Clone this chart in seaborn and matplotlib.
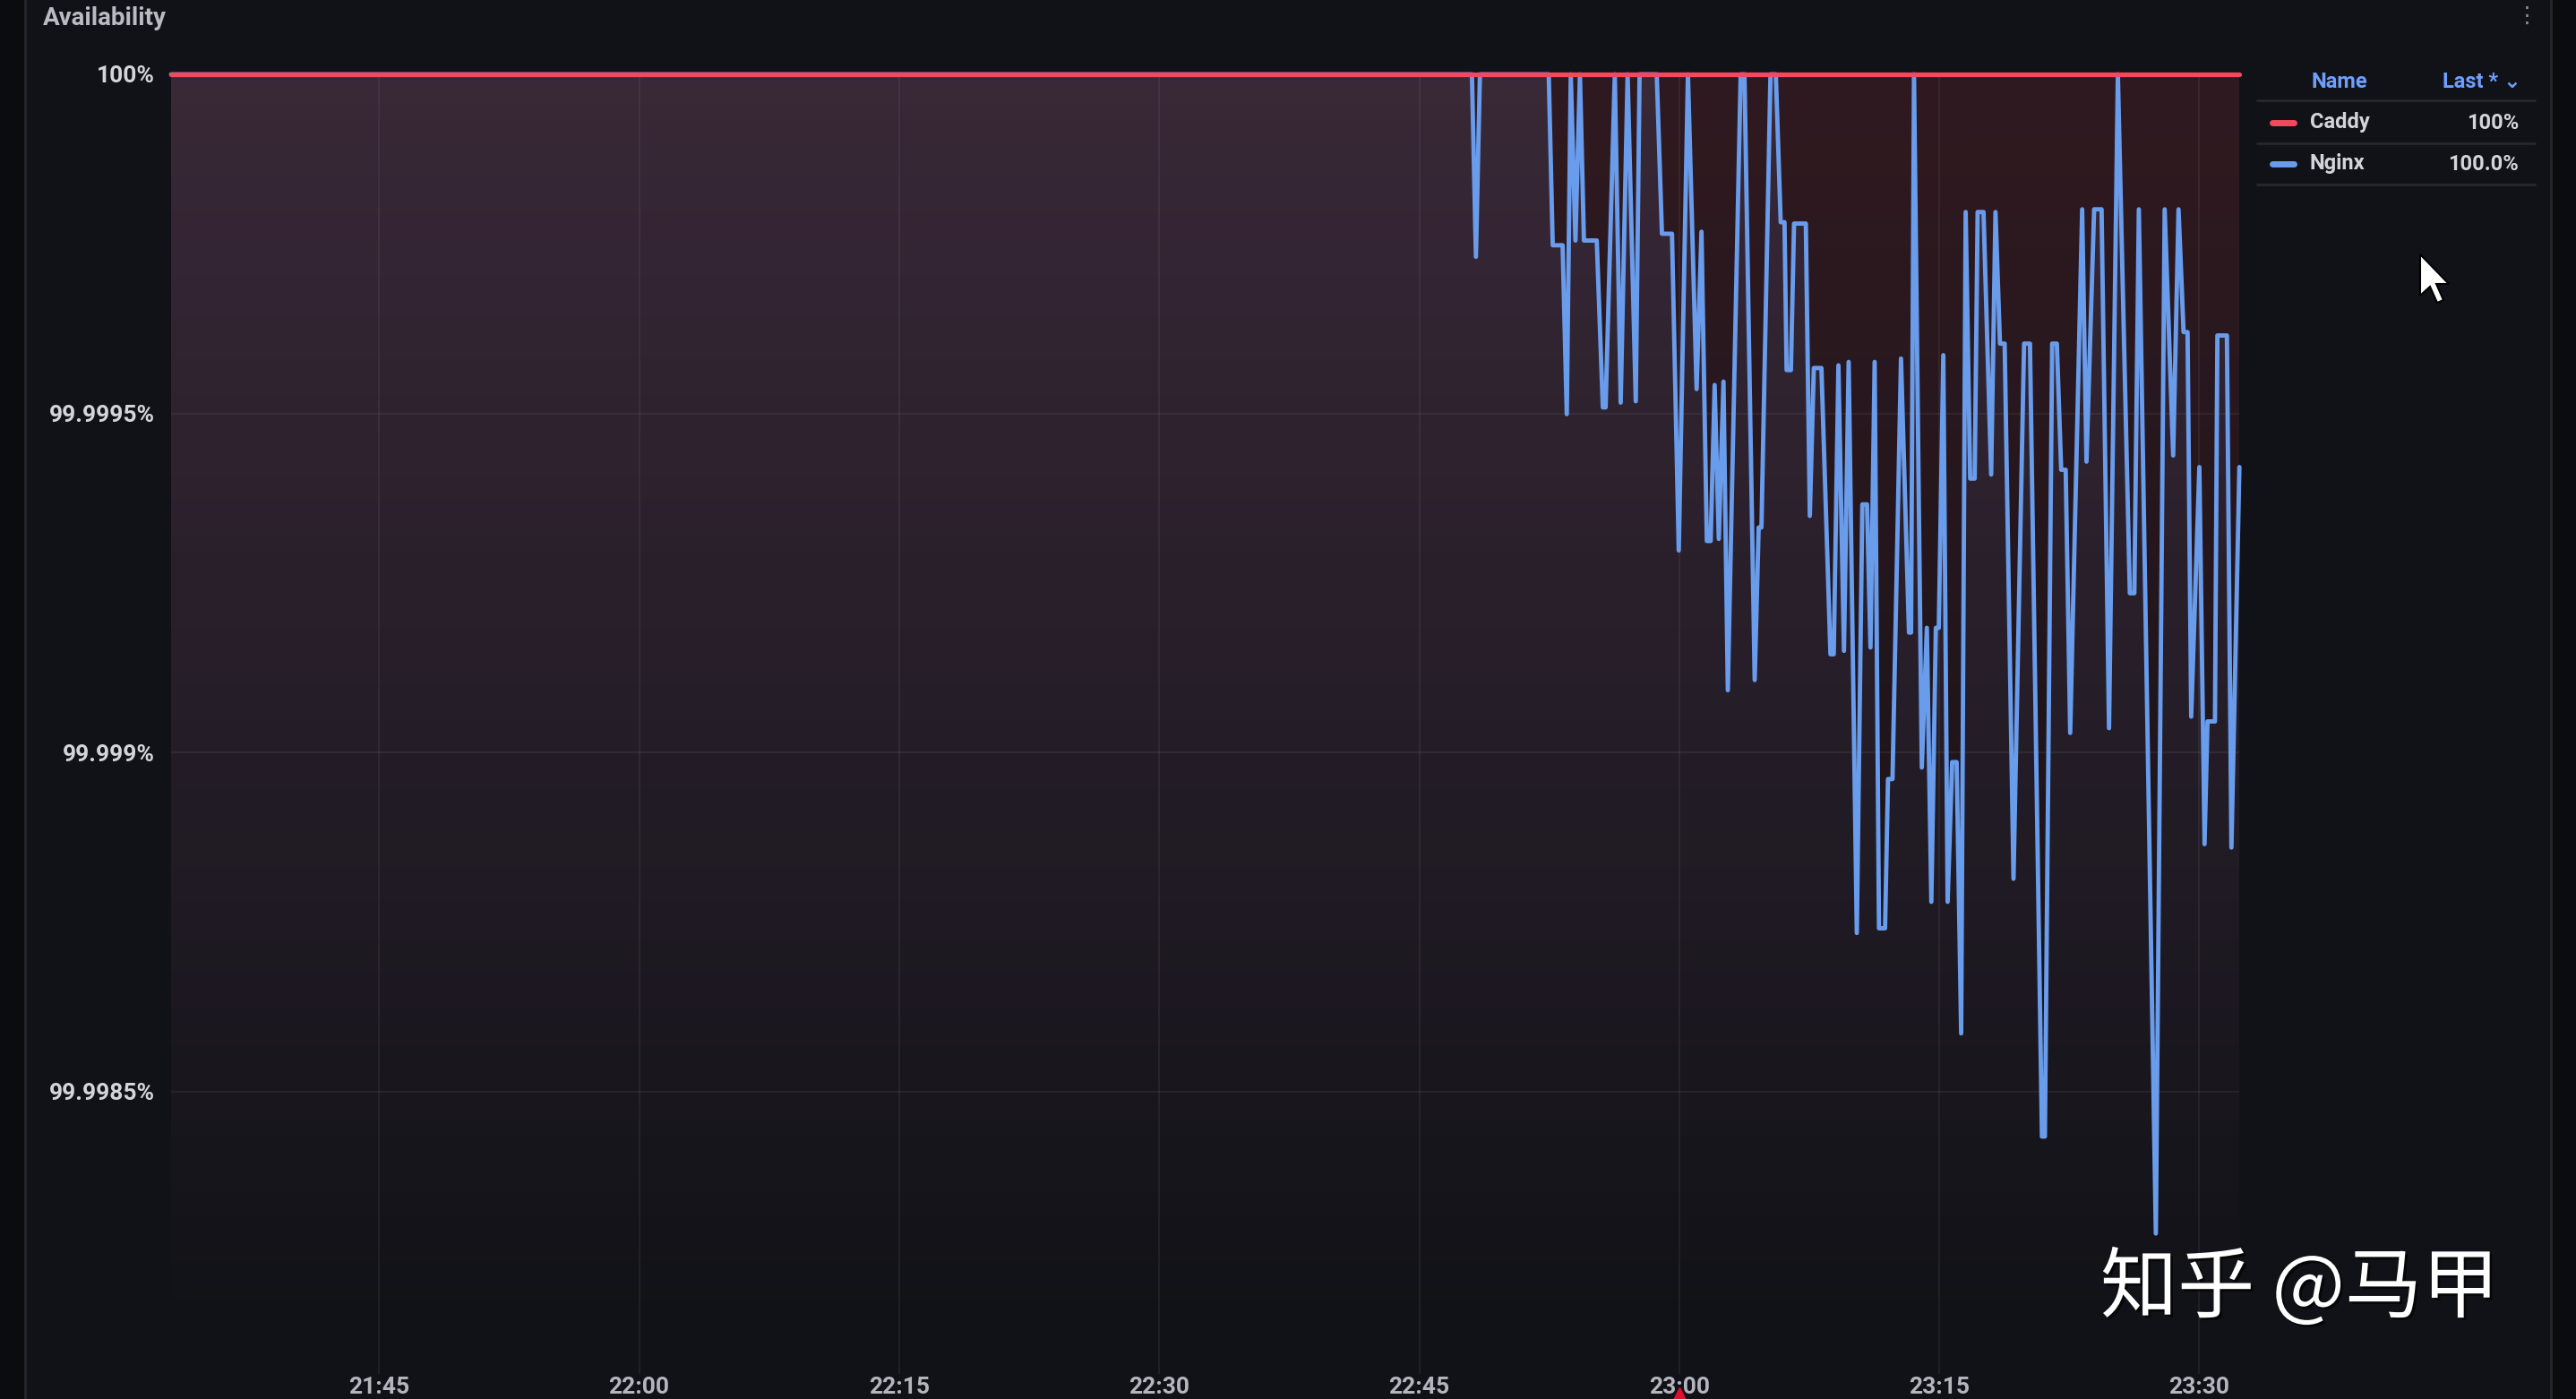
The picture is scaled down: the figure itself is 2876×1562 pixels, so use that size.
import numpy as np
import pandas as pd
import seaborn as sns
import matplotlib.pyplot as plt
import matplotlib.dates as mdates
import matplotlib.colors as mcolors
import matplotlib.patheffects as pe
from matplotlib.ticker import FixedLocator, FuncFormatter
from matplotlib.lines import Line2D
from matplotlib.patches import Polygon, Rectangle
from matplotlib.transforms import blended_transform_factory

# Availability (%), time as minutes after 21:00
caddy_min = [33.0, 152.3]
caddy_pct = [100.0, 100.0]

nginx_min = [
    33.0, 108.04, 108.27, 108.50, 112.47, 112.70, 113.27, 113.51, 113.74, 114.01,
    114.27, 114.50, 115.24, 115.59, 115.75, 116.28, 116.62, 117.02, 117.49, 117.71,
    118.70, 119.00, 119.58, 119.97, 120.50, 121.00, 121.28, 121.59, 121.81, 122.04,
    122.28, 122.55, 122.80, 123.54, 123.76, 124.35, 124.58, 124.74, 125.26, 125.57,
    125.85, 126.07, 126.19, 126.44, 126.62, 127.30, 127.53, 127.76, 128.20, 128.72,
    128.91, 129.18, 129.50, 129.77, 130.24, 130.56, 130.83, 131.03, 131.27, 131.52,
    131.87, 132.04, 132.30, 132.79, 133.25, 133.37, 133.54, 133.99, 134.28, 134.54,
    134.80, 134.97, 135.23, 135.48, 135.74, 136.00, 136.26, 136.52, 136.78, 137.04,
    137.21, 137.55, 137.99, 138.24, 138.50, 138.77, 139.28, 139.89, 140.23, 140.92,
    141.09, 141.51, 141.78, 142.03, 142.29, 142.55, 143.24, 143.49, 143.93, 144.36,
    144.79, 145.30, 145.99, 146.25, 146.51, 147.49, 148.00, 148.49, 148.80, 149.09,
    149.32, 149.53, 150.00, 150.30, 150.47, 150.90, 151.04, 151.59, 151.85, 152.31,
]
nginx_pct = [
    100.0, 100.0, 99.999731, 100.0, 100.0, 99.999748, 99.999748, 99.999499, 100.0, 99.999755,
    100.0, 99.999755, 99.999755, 99.999509, 99.999509, 100.0, 99.999516, 100.0, 99.999518, 100.0,
    100.0, 99.999765, 99.999765, 99.999298, 100.0, 99.999536, 99.999768, 99.999312, 99.999312, 99.999542,
    99.999315, 99.999547, 99.999092, 100.0, 100.0, 99.999107, 99.999332, 99.999332, 100.0, 100.0,
    99.999782, 99.999782, 99.999564, 99.999564, 99.999780, 99.999780, 99.999349, 99.999567, 99.999567, 99.999145,
    99.999145, 99.999571, 99.999150, 99.999576, 99.998734, 99.999366, 99.999366, 99.999155, 99.999576, 99.998741,
    99.998741, 99.998961, 99.998961, 99.999581, 99.999177, 99.999177, 100.0, 99.998978, 99.999184, 99.998780,
    99.999184, 99.999184, 99.999586, 99.998780, 99.998986, 99.998986, 99.998586, 99.999797, 99.999404, 99.999404,
    99.999797, 99.999797, 99.999410, 99.999797, 99.999603, 99.999603, 99.998814, 99.999603, 99.999603, 99.998434,
    99.998434, 99.999603, 99.999603, 99.999417, 99.999417, 99.999029, 99.999801, 99.999429, 99.999801, 99.999801,
    99.999036, 100.0, 99.999235, 99.999235, 99.999801, 99.998291, 99.999801, 99.999438, 99.999801, 99.999620,
    99.999620, 99.999053, 99.999421, 99.998865, 99.999046, 99.999046, 99.999615, 99.999615, 99.998860, 99.999421,
]

annotation_min = [120.0]
y_ticks = [100.0, 99.9995, 99.999, 99.9985]
x_limits_min = [33.0, 152.3]
y_limits = [99.998084, 100.0]

RED = "#F2495C"
BLUE = "#6A9CEC"
BG = "#111217"
TEXT = "#d4d5db"

base = pd.Timestamp("2024-01-01 21:00")
caddy = pd.DataFrame({"time": base + pd.to_timedelta(caddy_min, unit="m"),
                      "pct": caddy_pct, "name": "Caddy"})
nginx = pd.DataFrame({"time": base + pd.to_timedelta(nginx_min, unit="m"),
                      "pct": nginx_pct, "name": "Nginx"})
df = pd.concat([nginx, caddy], ignore_index=True)

sns.set_theme(style="dark")
plt.rcParams["font.family"] = ["Roboto", "DejaVu Sans"]

W, H = 2876, 1562
fig = plt.figure(figsize=(W / 100, H / 100), dpi=100, facecolor=BG)


def fx(px):
    return px / W


def fy(py):
    return 1 - py / H


# panel edges
fig.add_artist(Rectangle((0, 0), fx(28), 1, transform=fig.transFigure, color="#0b0c0f", zorder=0))
fig.add_artist(Rectangle((fx(2848), 0), 1 - fx(2848), 1, transform=fig.transFigure, color="#0b0c0f", zorder=0))
for px in (28, 2848):
    fig.add_artist(Line2D([fx(px), fx(px)], [0, 1], transform=fig.transFigure, color="#24262c", lw=2))

ax = fig.add_axes([fx(191), fy(1534), fx(2500) - fx(191), fy(83) - fy(1534)])
ax.set_facecolor(BG)


def gradient_fill(ax, times, vals, color, a_top):
    poly = ax.fill_between(times, vals, y_limits[0], facecolor="none", edgecolor="none")
    grad = np.zeros((256, 1, 4))
    grad[..., :3] = mcolors.to_rgb(color)
    grad[..., 3] = np.linspace(a_top, 0.0, 256)[:, None]
    xn = mdates.date2num(times)
    im = ax.imshow(grad, aspect="auto", origin="upper", zorder=1,
                   extent=[xn.min(), xn.max(), y_limits[0], y_limits[1]])
    im.set_clip_path(poly.get_paths()[0], transform=ax.transData)


gradient_fill(ax, nginx["time"], nginx["pct"], BLUE, 0.13)
gradient_fill(ax, caddy["time"], caddy["pct"], RED, 0.14)

sns.lineplot(data=df, x="time", y="pct", hue="name", hue_order=["Nginx", "Caddy"],
             palette={"Caddy": RED, "Nginx": BLUE}, estimator=None, sort=False,
             linewidth=3.5, legend=False, ax=ax, clip_on=False, zorder=3,
             solid_joinstyle="round")
for ln in ax.lines:
    if mcolors.to_hex(ln.get_color()).lower() == RED.lower():
        ln.set_linewidth(3.8)
        ln.set_zorder(4)

ax.set_xlim(base + pd.Timedelta(minutes=x_limits_min[0]), base + pd.Timedelta(minutes=x_limits_min[1]))
ax.set_ylim(y_limits)
ax.xaxis.set_major_locator(mdates.MinuteLocator(byminute=[0, 15, 30, 45]))
ax.xaxis.set_major_formatter(mdates.DateFormatter("%H:%M"))
ax.yaxis.set_major_locator(FixedLocator(y_ticks))
ax.yaxis.set_major_formatter(FuncFormatter(lambda v, p: f"{v:g}%"))
ax.tick_params(axis="both", length=0, labelsize=19, labelcolor=TEXT)
ax.tick_params(axis="y", pad=13)
ax.tick_params(axis="x", pad=2, labelcolor="#b4b5bd")
for lab in ax.get_xticklabels() + ax.get_yticklabels():
    lab.set_fontweight("bold")
ax.grid(True, color="white", alpha=0.07, linewidth=1.3)
ax.set_xlabel("")
ax.set_ylabel("")
for s in ax.spines.values():
    s.set_visible(False)

# annotation marker on the time axis
tr = blended_transform_factory(ax.transData, ax.transAxes)
ax.plot(base + pd.to_timedelta(annotation_min, unit="m"), [-0.016], marker="^", color="#e0102f",
        markersize=11, transform=tr, clip_on=False, linestyle="none")

# title
fig.text(fx(48), fy(28), "Availability", fontsize=20, fontweight="bold", color="#b9bac2", va="baseline")
fig.text(fx(2821), fy(18), "⋮", fontsize=18, color="#8e8f96", ha="center", va="center",
         family=["DejaVu Sans"])

# legend table
fig.text(fx(2612), fy(91), "Name", fontsize=17, fontweight="bold", color="#6e9fff", ha="center", va="center")
fig.text(fx(2815), fy(91), "Last * ⌄", fontsize=17, fontweight="bold", color="#6e9fff", ha="right", va="center")
for py in (112, 160, 206):
    fig.add_artist(Line2D([fx(2520), fx(2830)], [fy(py), fy(py)], transform=fig.transFigure,
                          color="#26282e", lw=2))
rows = [("Caddy", RED, f"{caddy_pct[-1]:.0f}%", 137), ("Nginx", BLUE, f"{nginx_pct[-1]:.1f}%", 183)]
for name, col, last, py in rows:
    fig.add_artist(Line2D([fx(2537), fx(2561)], [fy(py), fy(py)], transform=fig.transFigure,
                          color=col, lw=5, solid_capstyle="round"))
    fig.text(fx(2579), fy(py), name, fontsize=17, fontweight="bold", color=TEXT, va="center")
    fig.text(fx(2812), fy(py), last, fontsize=17, fontweight="bold", color=TEXT, va="center", ha="right")

# mouse pointer
tip = np.array([2702, 284])
shape = np.array([[0, 0], [0, 46], [11, 36], [19, 54], [26, 51], [18, 33], [32, 33]]) + tip
fig.add_artist(Polygon([[fx(x), fy(y)] for x, y in shape], closed=True, transform=fig.transFigure,
                       facecolor="white", edgecolor="black", lw=1.5, zorder=10))

# watermark
fig.text(fx(2345), fy(1440), "知乎 @马甲", fontsize=62, color="white", va="center",
         family=["Noto Sans CJK SC", "DejaVu Sans"], fontweight="medium",
         path_effects=[pe.withSimplePatchShadow(offset=(2, -2), shadow_rgbFace="black", alpha=0.6)])

fig.savefig("out.png", dpi=100, facecolor=BG)
